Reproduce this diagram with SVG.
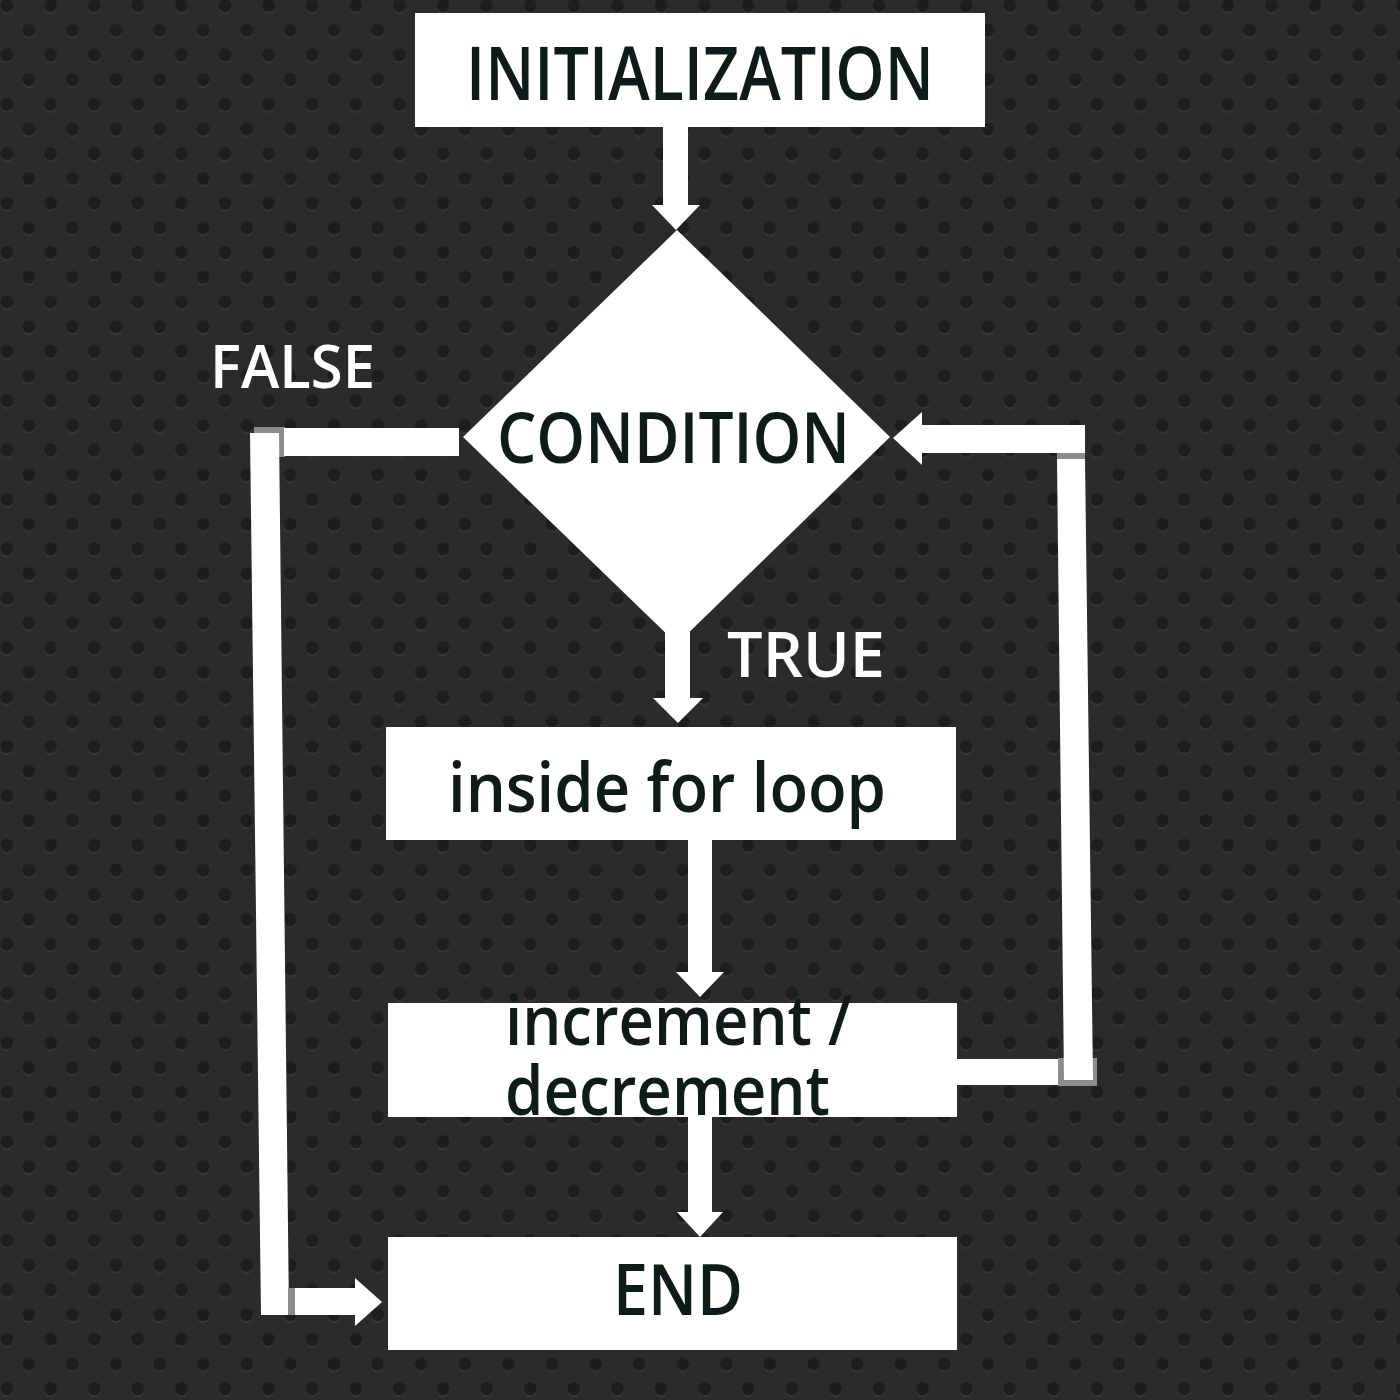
<svg xmlns="http://www.w3.org/2000/svg" width="1400" height="1400" viewBox="0 0 1400 1400">
  <style>
    .box { fill: #ffffff; }
    .lbl { font-family: "Open Sans", "Noto Sans", sans-serif; font-weight: 600; fill: #0e1b1b; }
    .wlbl { font-family: "Open Sans", "Noto Sans", sans-serif; font-weight: 600; fill: #ffffff; }
    .con { fill: #ffffff; }
    .edge { fill: #8c8c8c; }
  </style>
  <defs>
    <pattern id="dots" x="0" y="0" width="43.6" height="49.4" patternUnits="userSpaceOnUse">
      <rect width="43.6" height="49.4" fill="#2b2b2b"/>
      <circle cx="7" cy="7.5" r="6.5" fill="#363636"/>
      <circle cx="7" cy="5.5" r="6.5" fill="#1d1d1d"/>
      <circle cx="28.8" cy="32.2" r="6.5" fill="#363636"/>
      <circle cx="28.8" cy="30.2" r="6.5" fill="#1d1d1d"/>
      <circle cx="50.6" cy="32.2" r="6.5" fill="#363636"/>
      <circle cx="50.6" cy="30.2" r="6.5" fill="#1d1d1d"/>
      <circle cx="50.6" cy="7.5" r="6.5" fill="#363636"/>
      <circle cx="50.6" cy="5.5" r="6.5" fill="#1d1d1d"/>
      <circle cx="7" cy="56.9" r="6.5" fill="#363636"/>
      <circle cx="7" cy="54.9" r="6.5" fill="#1d1d1d"/>
    </pattern>
  </defs>
  <rect x="0" y="0" width="1400" height="1400" fill="url(#dots)"/>

  <g id="connectors">
    <!-- initialization to condition -->
    <rect class="con" x="663" y="126" width="25" height="80"/>
    <polygon class="con" points="652,205 700,205 676,230"/>
    <!-- TRUE: condition to inside -->
    <rect class="con" x="665" y="620" width="25" height="79"/>
    <polygon class="con" points="653,698 703,698 678,723"/>
    <!-- inside to increment -->
    <rect class="con" x="688" y="839" width="24" height="134"/>
    <polygon class="con" points="676,972 724,972 700,997"/>
    <!-- increment to END -->
    <rect class="con" x="688" y="1116" width="24" height="97"/>
    <polygon class="con" points="677,1212 723,1212 700,1237"/>
    <!-- FALSE loop -->
    <rect class="edge" x="254" y="427" width="31" height="30"/>
    <rect class="con" x="284" y="428" width="175" height="28"/>
    <polygon class="con" points="250,433 279,433 289,1315 261,1315"/>
    <rect class="edge" x="288" y="1288" width="8" height="27"/>
    <rect class="con" x="295" y="1288" width="61" height="27"/>
    <polygon class="con" points="355,1278 355,1326 382,1302"/>
    <!-- increment back to condition -->
    <rect class="edge" x="1058" y="1058" width="39" height="28"/>
    <rect class="con" x="955" y="1059" width="103" height="26"/>
    <rect class="edge" x="1057" y="452" width="28" height="8"/>
    <polygon class="con" points="1057,459 1085,459 1093,1080 1064,1080"/>
    <rect class="con" x="921" y="425" width="164" height="28"/>
    <polygon class="con" points="922,412 922,465 893,438"/>
  </g>

  <g id="node-initialization">
    <rect class="box" x="415" y="13" width="570" height="114"/>
    <text class="lbl" x="466" y="100" font-size="74" textLength="468" lengthAdjust="spacingAndGlyphs">INITIALIZATION</text>
  </g>

  <g id="node-condition">
    <polygon class="box" points="677,230 890,437 677,644 463,437"/>
    <text class="lbl" x="497" y="463" font-size="70" textLength="353" lengthAdjust="spacingAndGlyphs">CONDITION</text>
  </g>

  <g id="label-false">
    <text class="wlbl" x="210" y="388" font-size="60" textLength="165" lengthAdjust="spacingAndGlyphs">FALSE</text>
  </g>

  <g id="label-true">
    <text class="wlbl" x="727" y="677" font-size="64" textLength="158" lengthAdjust="spacingAndGlyphs">TRUE</text>
  </g>

  <g id="node-inside">
    <rect class="box" x="386" y="727" width="570" height="113"/>
    <text class="lbl" x="448" y="812" font-size="68" textLength="438" lengthAdjust="spacingAndGlyphs">inside for loop</text>
  </g>

  <g id="node-increment">
    <rect class="box" x="388" y="1003" width="569" height="114"/>
    <text class="lbl" x="505" y="1045" font-size="68" textLength="347" lengthAdjust="spacingAndGlyphs">increment /</text>
    <text class="lbl" x="505" y="1115" font-size="68" textLength="325" lengthAdjust="spacingAndGlyphs">decrement</text>
  </g>

  <g id="node-end">
    <rect class="box" x="388" y="1237" width="569" height="113"/>
    <text class="lbl" x="613" y="1315" font-size="70" textLength="130" lengthAdjust="spacingAndGlyphs">END</text>
  </g>
</svg>
